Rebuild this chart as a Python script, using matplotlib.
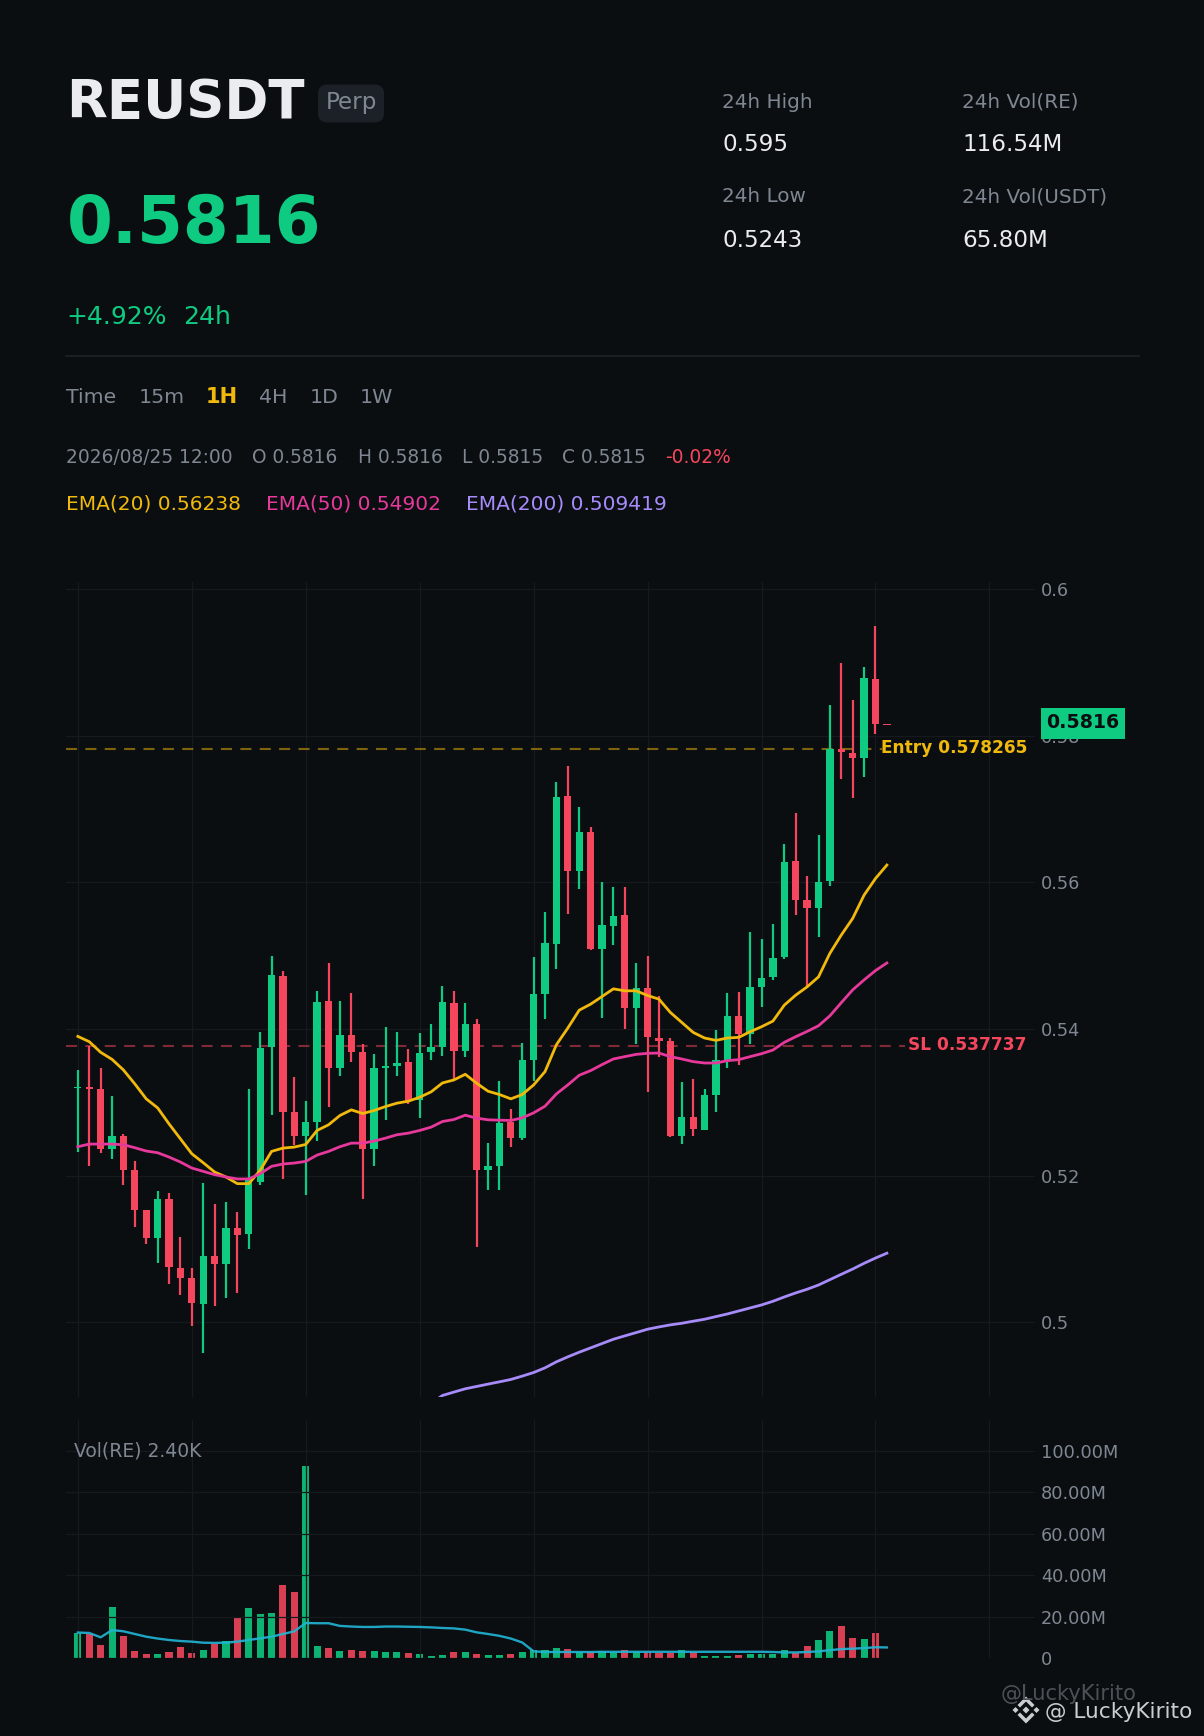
import numpy as np
import matplotlib
matplotlib.use('Agg')
import matplotlib.pyplot as plt
from matplotlib.patches import FancyBboxPatch, Polygon, Rectangle

# candles
opens = [.53193, .53215, .53188, .52358, .52535, .52073, .51528, .51147, .51678, .50739, .50603, .5025,
         .50903, .50794, .51283, .51202, .51909, .5376, .54726, .52875, .52535, .52726, .54385, .53474,
         .53923, .53692, .52358, .53474, .53501, .53556, .53039, .53692, .5376, .54358, .53705, .54073,
         .52073, .52127, .52726, .52508, .53583, .54481, .55161, .57175, .56154, .56685, .55093, .55406,
         .55556, .5429, .54562, .53882, .53841, .52535, .52807, .52617, .53107, .53583, .54181, .53936,
         .54576, .54712, .54984, .5629, .5576, .55651, .56018, .57828, .57773, .57692, .5878, .58163]
closes = [.53215, .53179, .52358, .52535, .52073, .51528, .51147, .51678, .50753, .50603, .50263, .50903,
          .50794, .51283, .51188, .5195, .53746, .54739, .52875, .52535, .52726, .54372, .53474, .53923,
          .53692, .52358, .53474, .53501, .53542, .53025, .53678, .5376, .54372, .53705, .54073, .52073,
          .52127, .52712, .52508, .53583, .54481, .55175, .57161, .56154, .56685, .55093, .55419, .55542,
          .5429, .54562, .53896, .53841, .52535, .52794, .5263, .53107, .53583, .54181, .53936, .54576,
          .54698, .5497, .56277, .5576, .55651, .56004, .57828, .57787, .57692, .58794, .58168, .5815]
highs = [.53447, .53773, .53474, .53093, .52562, .52195, .51528, .51787, .5176, .51161, .50739, .51896,
         .5161, .51637, .51501, .53188, .53964, .54998, .54794, .53351, .53025, .54521, .54902, .54385,
         .54494, .53796, .53664, .54032, .53964, .53732, .5395, .54072, .54589, .54522, .54358, .54141,
         .5244, .53297, .52916, .53814, .54984, .55596, .57365, .57583, .57025, .56753, .56004, .55936,
         .55936, .54902, .54998, .54454, .53882, .53283, .53324, .53188, .53991, .54494, .54508, .55324,
         .55229, .55433, .56521, .56943, .56086, .56644, .58426, .58998, .58494, .58943, .59501, .5816]
lows = [.52322, .52127, .52304, .52222, .51868, .51297, .51066, .50807, .50522, .50372, .4995, .49583,
        .50222, .50331, .5040, .50998, .51868, .52834, .5195, .52413, .51732, .52467, .52943, .53365,
        .53556, .51678, .52127, .52766, .53365, .52984, .5278, .53583, .53637, .53324, .53624, .5103,
        .5180, .5180, .52386, .52481, .53297, .54141, .54821, .55569, .55909, .55079, .54154, .55147,
        .54005, .5380, .53147, .53624, .52522, .52426, .52535, .52617, .52875, .53474, .53515, .538,
        .54304, .54671, .54957, .55556, .54576, .55256, .5595, .57406, .57147, .57433, .58032, .5815]

ema20 = [.539, .53828, .53683, .53587, .53442, .53252, .53048, .52925, .52707, .52503, .52299, .52177,
         .5205, .51982, .51891, .51891, .52073, .52331, .52376, .5239, .52426, .52617, .52694, .52821,
         .52898, .52848, .52889, .52943, .52989, .53016, .5307, .53143, .53265, .53306, .53383, .53261,
         .53152, .53107, .53048, .53107, .53238, .5342, .53787, .54014, .54258, .5434, .54444, .54549,
         .54522, .54522, .54458, .54408, .54227, .54091, .53955, .53878, .53846, .53878, .53887, .53964,
         .54032, .54109, .54327, .54463, .54576, .54712, .55034, .55283, .5551, .55828, .56054, .56238]
ema50 = [.52395, .52431, .52431, .52431, .52422, .52381, .52336, .52313, .52254, .52186, .52104, .52059,
         .52014, .51982, .51955, .51955, .52027, .52127, .52159, .52172, .52195, .52281, .52331, .52395,
         .52444, .52444, .52472, .52512, .52558, .5258, .52617, .52662, .52739, .52766, .52825, .52785,
         .52762, .52757, .52753, .52789, .52857, .52948, .53116, .53238, .5337, .53433, .53515, .53592,
         .53624, .53655, .53669, .53673, .53624, .53592, .53556, .53537, .53537, .53569, .53583, .53624,
         .53664, .53714, .53819, .53896, .53968, .54045, .54181, .5436, .54535, .54671, .54798, .54902]
# ema200 is below the pane before candle 31
ema200_start = 31
ema200 = [.4889, .49001, .49047, .49092, .49124, .49156, .49187, .49219, .49265, .49314, .49378, .4946,
          .49528, .49591, .4965, .49709, .49768, .49814, .49859, .49905, .49936, .49964, .49986, .50014,
          .50041, .50077, .50113, .50154, .50195, .50236, .50286, .50345, .504, .5045, .50508, .50581,
          .50654, .50726, .50804, .50876, .50942]

volumes = [12.1, 11.6, 6.3, 24.7, 10.6, 3.4, 1.9, 1.9, 2.9, 5.3, 2.4, 3.9, 6.8, 8.2, 19.4, 24.2, 21.3, 21.8,
           35.3, 31.9, 92.9, 5.8, 4.8, 3.4, 3.9, 3.4, 3.4, 2.9, 2.9, 2.4, 1.9, 1.0, 1.4, 2.9, 2.9, 1.9,
           1.4, 1.4, 1.9, 2.9, 3.8, 3.8, 4.8, 4.3, 3.0, 2.9, 3.3, 3.0, 3.8, 3.0, 3.0, 2.2, 2.2, 3.8,
           3.0, 0.95, 0.95, 0.95, 1.4, 1.9, 1.9, 1.9, 3.8, 2.5, 5.7, 8.6, 12.9, 15.7, 9.5, 9.0, 11.9, 0.0024]
vol_ma = [12.3, 12.1, 10.0, 13.5, 12.9, 11.6, 10.3, 9.4, 8.7, 8.2, 7.9, 7.4, 7.3, 7.4, 7.9, 8.7, 9.5, 10.3,
          11.6, 12.9, 16.9, 16.8, 16.8, 15.5, 15.2, 15.0, 15.0, 15.2, 15.2, 15.1, 15.0, 14.8, 14.5, 14.3,
          13.7, 12.4, 11.6, 10.7, 9.4, 7.5, 3.2, 2.9, 2.9, 2.9, 2.9, 2.9, 3.0, 3.0, 3.0, 3.0, 3.0, 3.0,
          3.0, 3.0, 3.0, 3.0, 3.0, 3.0, 3.0, 3.0, 3.0, 2.9, 2.7, 2.7, 2.9, 3.2, 3.8, 4.3, 4.5, 4.8, 5.2, 5.1]

entry_price = 0.578265
sl_price = 0.537737

price_ticks = [0.5, 0.52, 0.54, 0.56, 0.58, 0.6]
price_tick_labels = ['0.5', '0.52', '0.54', '0.56', '0.58', '0.6']
vol_ticks = [0, 20, 40, 60, 80, 100]
vol_tick_labels = ['0', '20.00M', '40.00M', '60.00M', '80.00M', '100.00M']
time_ticks = [0, 10, 20, 30, 40, 50, 60, 70, 80]

BG = '#0a0e11'
GREEN = '#0ecb81'
RED = '#f6465d'
YELLOW = '#f0b90b'
PINK = '#e6399b'
PURPLE = '#a78bfa'
CYAN = '#22b5d6'
GRAY = '#7f8792'
WHITE = '#eaecef'
GRID = '#161a1f'

W, H = 1204, 1736
plt.rcParams['font.family'] = ['DejaVu Sans']

fig = plt.figure(figsize=(W / 100, H / 100), dpi=100, facecolor=BG)


def px_axes(left, top, right, bottom, **kw):
    return fig.add_axes([left / W, 1 - bottom / H, (right - left) / W, (bottom - top) / H], facecolor=BG, **kw)


def style(ax, ticks, labels):
    for s in ax.spines.values():
        s.set_visible(False)
    ax.yaxis.tick_right()
    ax.set_yticks(ticks)
    ax.set_yticklabels(labels)
    ax.set_xticks(time_ticks)
    ax.tick_params(axis='y', length=0, pad=4.5, labelsize=17.8 * 0.72, labelcolor=GRAY)
    ax.tick_params(axis='x', length=0, labelbottom=False)
    ax.set_xlim(-1.04, 84.0)


# main pane
ax = px_axes(66, 582, 1035, 1397)
style(ax, price_ticks, price_tick_labels)
ax.set_ylim(0.4898, 0.601)
ax.grid(True, color=GRID, lw=0.9)
ax.set_axisbelow(True)

x = np.arange(len(opens))
o = np.array(opens)
c = np.array(closes)
colors = [GREEN if c[i] >= o[i] else RED for i in x]

ax.plot([-1.04, 70.6], [entry_price, entry_price], color=YELLOW, alpha=0.5, lw=1.5, dashes=(5.3, 4.0), zorder=1.5)
ax.plot([-1.04, 72.6], [sl_price, sl_price], color=RED, alpha=0.5, lw=1.5, dashes=(5.3, 4.0), zorder=1.5)

ax.vlines(x, lows, highs, colors=colors, lw=1.6, zorder=2)
ax.bar(x, np.abs(c - o), bottom=np.minimum(o, c), width=0.64, color=colors, zorder=2.1)

ax.plot(x, ema20, color=YELLOW, lw=2.0, zorder=3)
ax.plot(x, ema50, color=PINK, lw=2.0, zorder=3)
ax.plot(x[ema200_start:], ema200, color=PURPLE, lw=2.0, zorder=3)

# volume pane
vax = px_axes(66, 1420, 1035, 1658)
style(vax, vol_ticks, vol_tick_labels)
vax.set_ylim(0, 115)
vax.grid(True, color=GRID, lw=0.9)
vax.set_axisbelow(False)
vax.bar(x, volumes, width=0.62, color=colors, alpha=0.88, zorder=1)
vax.plot(x, vol_ma, color=CYAN, lw=1.7, alpha=0.9, zorder=4)

# overlay in image pixels for the header and labels
over = fig.add_axes([0, 0, 1, 1], zorder=10)
over.set_xlim(0, W)
over.set_ylim(H, 0)
over.axis('off')


def label(tx, ty, s, size, color=GRAY, weight='normal', **kw):
    return over.text(tx, ty, s, fontsize=size * 0.72, color=color, fontweight=weight, va='baseline', **kw)


label(66, 117.7, 'REUSDT', 53, WHITE, 'bold')
over.add_patch(FancyBboxPatch((322, 88.5), 58, 30, boxstyle='round,pad=0,rounding_size=5', fc='#1c2027', ec='#1c2027', lw=8 * 0.72))
label(326, 109.3, 'Perp', 23)
label(67, 243.5, '0.5816', 66, GREEN, 'bold')
label(66, 324, '+4.92%', 25, GREEN)
label(183, 324, '24h', 25, GREEN)

label(722.5, 107.7, '24h High', 20)
label(722.5, 151, '0.595', 23, WHITE)
label(722.5, 202.5, '24h Low', 20)
label(722.5, 246.7, '0.5243', 23, WHITE)
label(962.5, 107.7, '24h Vol(RE)', 20)
label(962.5, 151, '116.54M', 23, WHITE)
label(962.5, 202.5, '24h Vol(USDT)', 20)
label(962.5, 246.7, '65.80M', 23, WHITE)

over.plot([66, 1139], [356, 356], color='#1e2329', lw=1.2)

label(66.5, 403.3, 'Time', 20.5)
label(139, 403.3, '15m', 20.5)
label(206, 403.3, '1H', 21, YELLOW, 'bold')
label(258.5, 403.3, '4H', 20.5)
label(310, 403.3, '1D', 20.5)
label(359.5, 403.3, '1W', 20.5)

label(66.5, 462.7, '2026/08/25 12:00', 18.7)
label(252.5, 462.7, 'O 0.5816', 18.7)
label(357.5, 462.7, 'H 0.5816', 18.7)
label(462.5, 462.7, 'L 0.5815', 18.7)
label(562, 462.7, 'C 0.5815', 18.7)
label(665, 462.7, '-0.02%', 18.7, RED)

label(66.5, 510, 'EMA(20) 0.56238', 20.1, YELLOW)
label(266, 510, 'EMA(50) 0.54902', 20.1, PINK)
label(466, 510, 'EMA(200) 0.509419', 20.1, PURPLE)

# price tag and level labels
over.add_patch(Rectangle((1041, 708), 84, 31, fc=GREEN, ec='none'))
label(1083, 728, '0.5816', 19, BG, 'bold', ha='center')
label(1027, 752.7, 'Entry 0.578265', 17, YELLOW, 'bold', ha='right')
label(1027, 1050.5, 'SL 0.537737', 17, RED, 'bold', ha='right')

label(74.3, 1456.7, 'Vol(RE) 2.40K', 18.8)

# watermarks
label(1001, 1700, '@LuckyKirito', 21, '#4c5157')
label(1045, 1718, '@ LuckyKirito', 21.7, '#c9cdd1')
cx, cy, r = 1026, 1710, 13
mark = '#c9cdd1'
over.add_patch(Polygon([(cx, cy - 3.5), (cx + 3.5, cy), (cx, cy + 3.5), (cx - 3.5, cy)], fc=mark, ec='none'))
for sx in (-1, 1):
    over.add_patch(Polygon([(cx + sx * 13.5, cy), (cx + sx * 10.5, cy - 3), (cx + sx * 7.5, cy), (cx + sx * 10.5, cy + 3)], fc=mark, ec='none'))
for sy in (-1, 1):
    over.add_patch(Polygon([(cx, cy + sy * 13.5), (cx + 8.5, cy + sy * 5), (cx + 6, cy + sy * 2.5),
                            (cx, cy + sy * 8.5), (cx - 6, cy + sy * 2.5), (cx - 8.5, cy + sy * 5)], fc=mark, ec='none'))

fig.savefig('out.png', dpi=100, facecolor=BG)
